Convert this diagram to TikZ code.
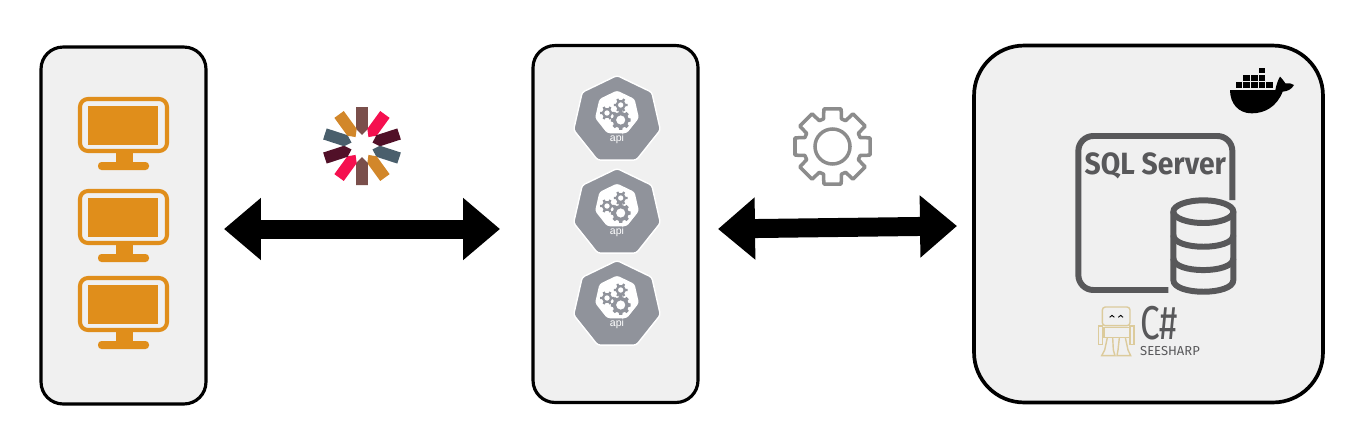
\documentclass[tikz,border=0pt]{standalone}
\usepackage{fontspec}
\setmainfont{Liberation Sans}
\newfontfamily\firafont{Fira Sans}
\usetikzlibrary{shapes.geometric,arrows.meta}

\definecolor{panelgray}{HTML}{F0F0F0}
\definecolor{screenorange}{HTML}{E08E1B}
\definecolor{apigray}{HTML}{90939B}
\definecolor{geargray}{HTML}{8C8C8C}
\definecolor{sqlgray}{HTML}{58585A}
\definecolor{robotgold}{HTML}{DCCB9C}
\definecolor{spinbrown}{HTML}{7A4F4B}
\definecolor{spinpink}{HTML}{F5104F}
\definecolor{spinmaroon}{HTML}{511028}
\definecolor{spinslate}{HTML}{4A5F6C}
\definecolor{spinorange}{HTML}{D2872A}

\tikzset{
    panel/.style={draw=black, fill=panelgray, line width=1.8pt, rounded corners=0.44cm, minimum width=3.3cm, minimum height=7.14cm},
    bigpanel/.style={panel, rounded corners=1cm, minimum width=6.98cm, line width=2.1pt},
    bigarrow/.style={line width=0.38cm, {Triangle[length=0.74cm,width=1.2cm]}-{Triangle[length=0.74cm,width=1.2cm]}},
    apishape/.style={regular polygon, regular polygon sides=7, inner sep=0pt, fill=apigray, draw=white, line width=0.8pt, rounded corners=1.5pt, minimum size=1.78cm},
    apihole/.style={regular polygon, regular polygon sides=7, inner sep=0pt, fill=white, rounded corners=1.5pt, minimum size=0.9cm},
    apilabel/.style={text=white, font=\fontsize{6}{6}\selectfont, inner sep=0pt},
    sqlline/.style={draw=sqlgray, line width=3.4pt},
    robotline/.style={draw=robotgold, line width=0.8pt}
}

\newcommand{\gearteeth}[4]{(-#4-5:#2) \foreach \a in {0,#3,...,359}{ -- (\a-#4-5:#2) -- (\a-#4:#1) -- (\a+#4:#1) -- (\a+#4+5:#2)} -- cycle}

\begin{document}
\begin{tikzpicture}[x=0.02cm, y=-0.02cm]
    \useasboundingbox (0,0) rectangle (1358,430);

    \node[panel] (clients) at (123.5,225.5) {};
    \node[panel] (apis) at (615.5,224) {};
    \node[bigpanel] (server) at (1148.5,224) {};

    \coordinate (leftend) at (224,229);
    \coordinate (apileft) at (500,229);
    \coordinate (apiright) at (718,229);
    \coordinate (serverend) at (957,226);
    \draw[bigarrow] (leftend) -- (apileft);
    \draw[bigarrow] (apiright) -- (serverend);

    \foreach \y in {0,92,179} {
        \begin{scope}[yshift=-\y*0.02cm]
            \draw[screenorange, line width=2.3pt, rounded corners=0.16cm] (80,99) rectangle (167,151);
            \fill[screenorange] (88,106) rectangle (158,145);
            \fill[screenorange] (116,152) rectangle (133,163);
            \fill[screenorange, rounded corners=0.07cm] (98,162) rectangle (149,170);
        \end{scope}
    }

    \foreach \a/\c in {90/spinbrown,54/spinpink,18/spinmaroon,-18/spinslate,-54/spinorange,-90/spinbrown,-126/spinpink,-162/spinmaroon,162/spinslate,126/spinorange} {
        \fill[\c, shift={(362,146)}, rotate=\a] (11,0) -- (17,5.8) -- (39,5.8) -- (39,-5.8) -- (17,-5.8) -- cycle;
    }

    \foreach \n/\y in {1/120,2/213,3/305} {
        \begin{scope}[shift={(617,\y)}]
            \node[apishape] (api\n) at (0,0) {};
            \node[apihole] (hole\n) at (0,-7) {};
            \fill[apigray, even odd rule, shift={(3.7,0)}] \gearteeth{10}{8}{45}{9} (0,0) circle (4.7);
            \node[apilabel] (apitext\n) at (0,19) {api};
            \fill[apigray, even odd rule, shift={(-10,-7)}] \gearteeth{7}{5}{60}{9} (0,0) circle (2.8);
            \fill[apigray, even odd rule, shift={(3.7,-15)}] \gearteeth{7}{5}{60}{9} (0,0) circle (2.8);
        \end{scope}
    }

    \draw[geargray, line width=2pt, line join=round, shift={(832.5,146.5)}] \gearteeth{38.5}{29}{45}{13};
    \draw[geargray, line width=2pt] (832.5,146.5) circle (17.5);

    \begin{scope}[shift={(1060,60)}, scale=1/3]
        \fill[black] (510,90) -- (646,90) .. controls (650,70) and (655,58) .. (660,50) .. controls (668,58) and (673,65) .. (676,70) .. controls (685,68) and (695,70) .. (702,75) .. controls (695,88) and (682,94) .. (668,95) .. controls (650,140) and (615,160) .. (575,160) .. controls (535,160) and (510,130) .. (510,90) -- cycle;
        \foreach \x in {527,550,573,596,619} \fill[black] (\x,67) rectangle +(20,16);
        \foreach \x in {550,573,596} \fill[black] (\x,45) rectangle +(20,18);
        \fill[black] (596,23) rectangle +(20,17);

        \draw[sqlline, rounded corners=0.3cm] (325,690) -- (55,690) -- (55,228) -- (517,228) -- (517,420);
        \node[text=sqlgray, inner sep=0pt] (sqltext) at (286,318) {\firafont\fontsize{17.5}{18}\selectfont\bfseries\scalebox{0.92}[1]{SQL Server}};
        \draw[sqlline] (340,455) -- (340,660) .. controls (340,707) and (520,707) .. (520,660) -- (520,455);
        \draw[sqlline] (430,455) ellipse (90 and 34);
        \draw[sqlline] (340,525) .. controls (340,572) and (520,572) .. (520,525);
        \draw[sqlline] (340,595) .. controls (340,642) and (520,642) .. (520,595);

        \draw[robotline, rounded corners=0.06cm] (127,741) rectangle (210,797);
        \draw[robotline] (132,802) rectangle (208,833);
        \draw[robotline] (115,798) rectangle (127,853);
        \draw[robotline] (210,798) rectangle (222,853);
        \draw[robotline] (142,833) -- (134,870) -- (125,887) -- (165,887) -- (160,870) -- (158,833);
        \draw[robotline] (178,833) -- (174,870) -- (171,887) -- (212,887) -- (204,870) -- (196,833);
        \draw[black, line width=0.5pt] (149,772) -- (156,766) -- (163,772);
        \draw[black, line width=0.5pt] (175,772) -- (182,766) -- (189,772);
        \node[text=sqlgray, inner sep=0pt] (csharp) at (297,788) {\firafont\fontsize{27}{27}\selectfont\scalebox{0.74}[1]{C\#}};
        \node[text=sqlgray, inner sep=0pt] (seesharp) at (330,874) {\firafont\fontsize{7.4}{8}\selectfont SEESHARP};
    \end{scope}
\end{tikzpicture}
\end{document}
